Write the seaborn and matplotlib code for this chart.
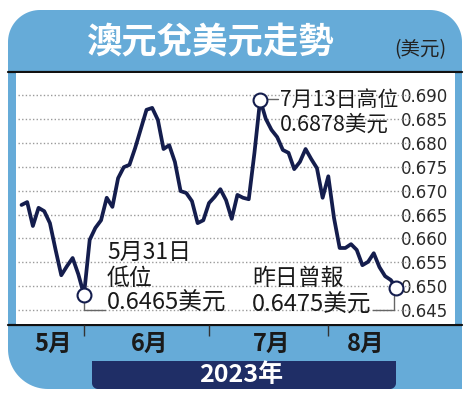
import matplotlib
matplotlib.use("Agg")
import matplotlib.pyplot as plt
import numpy as np
import pandas as pd
import seaborn as sns
from matplotlib.patches import Polygon
from matplotlib.transforms import IdentityTransform

# AUD/USD, trading days 16 May - 16 Aug 2023
dates = pd.bdate_range("2023-05-16", "2023-08-16")
aud_usd = [
    0.6670, 0.6676, 0.6626, 0.6664, 0.6657, 0.6632, 0.6576, 0.6523, 0.6542, 0.6559,
    0.6525, 0.6482,
    0.6597, 0.6622, 0.6638, 0.6685, 0.6666, 0.6726, 0.6749, 0.6754, 0.6789, 0.6829,
    0.6869, 0.6873, 0.6848, 0.6787, 0.6795, 0.6760, 0.6699, 0.6695, 0.6678, 0.6632,
    0.6638, 0.6674,
    0.6687, 0.6703, 0.6680, 0.6641, 0.6691, 0.6685, 0.6682, 0.6779, 0.6890, 0.6850,
    0.6827, 0.6812, 0.6785, 0.6779, 0.6745, 0.6760, 0.6787, 0.6766, 0.6747, 0.6685,
    0.6730,
    0.6643, 0.6580, 0.6580, 0.6588, 0.6576, 0.6544, 0.6551, 0.6569, 0.6540, 0.6521,
    0.6513, 0.6496,
]
y_ticks = [0.645, 0.650, 0.655, 0.660, 0.665, 0.670, 0.675, 0.680, 0.685, 0.690]
month_names = {5: "5月", 6: "6月", 7: "7月", 8: "8月"}

title = "澳元兌美元走勢"
unit = "(美元)"
year_label = "2023年"
low_date, low_text = "2023-05-31", ["5月31日", "低位", "0.6465美元"]
high_date, high_text = "2023-07-13", ["7月13日高位", "0.6878美元"]
last_text = ["昨日曾報", "0.6475美元"]

df = pd.DataFrame({"date": dates, "rate": aud_usd})
df["i"] = np.arange(len(df))
df["month"] = df["date"].dt.month

BLUE = "#66abd8"
NAVY = "#141d4d"
BOX = "#1f2e66"
INK = "#1a1a1a"

sns.set_style("white")
plt.rcParams["font.family"] = ["Noto Sans CJK TC", "DejaVu Sans"]

W, H = 474, 403
fig = plt.figure(figsize=(W / 100, H / 100), dpi=100)
bg = fig.add_axes([0, 0, 1, 1])
bg.set_xlim(0, W)
bg.set_ylim(H, 0)
bg.axis("off")


def round_box(x0, y0, x1, y1, r_tl, r_tr, r_br, r_bl, n=24):
    # y grows downwards in the background axes
    def arc(cx, cy, r, a0, a1):
        t = np.radians(np.linspace(a0, a1, n))
        return np.column_stack([cx + r * np.cos(t), cy + r * np.sin(t)])
    pts = np.vstack([
        arc(x0 + r_tl, y0 + r_tl, r_tl, 180, 270),
        arc(x1 - r_tr, y0 + r_tr, r_tr, 270, 360),
        arc(x1 - r_br, y1 - r_br, r_br, 0, 90),
        arc(x0 + r_bl, y1 - r_bl, r_bl, 90, 180),
    ])
    return pts


bg.add_patch(Polygon(round_box(8, 10, 462, 389, 32, 32, 0, 40), closed=True,
                     facecolor=BLUE, edgecolor="none"))
bg.plot([8, 462], [72, 72], color="#111111", lw=1.6)
bg.plot([8, 462], [325, 325], color="#111111", lw=1.6)
bg.add_patch(Polygon(round_box(92, 361, 396, 389, 0, 0, 6, 6), closed=True,
                     facecolor=BOX, edgecolor="none"))
bg.text(210, 43, title, color="white", fontsize=25.5, fontweight=900,
        ha="center", va="center")
bg.text(420, 50, unit, color="#222222", fontsize=14, ha="center", va="center")
bg.text(241, 375, year_label, color="white", fontsize=18, fontweight="bold",
        ha="center", va="center")

ax = fig.add_axes([16 / W, 1 - 324 / H, (455 - 16) / W, (324 - 73) / H])
ax.set_facecolor("white")
ax.set_xlim(-0.97, 76.3)
ax.set_ylim(0.6421, 0.6946)

ax.hlines(y_ticks, 0.005, 0.897, transform=ax.get_yaxis_transform(),
          colors="#9a9a9a", linestyles=(0, (1, 1.6)), lw=1, zorder=1)

sns.lineplot(data=df, x="i", y="rate", ax=ax, color=NAVY, linewidth=2.7, zorder=3)

ax.yaxis.tick_right()
ax.set_yticks(y_ticks)
ax.set_yticklabels([f"{v:.3f}" for v in y_ticks], ha="right",
                   fontfamily=["Liberation Sans Narrow", "DejaVu Sans"])
ax.tick_params(axis="y", length=0, pad=-5, labelsize=12, colors="#2a2a2a")
ax.set_xticks([])
ax.set_xlabel("")
ax.set_ylabel("")
for s in ax.spines.values():
    s.set_visible(False)

# month labels and dividers under the plot
xt = ax.get_xaxis_transform()
months = df.groupby("month")["i"]
for m, idx in months:
    ax.text(idx.mean(), -0.08, month_names[m], transform=xt, ha="center", va="center",
            fontsize=17, fontweight="bold", color=INK, clip_on=False)
for last_i in months.max().iloc[:-1]:
    ax.vlines(last_i, -0.048, -0.004, transform=xt, colors="#333333", lw=1, clip_on=False)

# highlighted points
low = df.loc[df["date"] == low_date].iloc[0]
high = df.loc[df["date"] == high_date].iloc[0]
last = df.iloc[-1]
for p in (low, high, last):
    ax.plot(p["i"], p["rate"], "o", ms=10, mfc="white", mec=NAVY, mew=1.5, zorder=5)


def connector(p, path_px):
    px, py = ax.transData.transform((p["i"], p["rate"]))
    ax.plot([px + dx for dx, dy in path_px], [py + dy for dx, dy in path_px],
            transform=IdentityTransform(), color="#666666", lw=1, clip_on=False, zorder=4)


def label(p, text, dx, dy, size):
    ax.annotate(text, xy=(p["i"], p["rate"]), xytext=(dx, dy), textcoords="offset pixels",
                ha="left", va="center", fontsize=size, color=INK, zorder=6)


connector(low, [(0, -7), (0, -15), (21, -15)])
label(low, low_text[0], 23, 42, 16.5)
label(low, low_text[1], 23, 16, 16.5)
label(low, low_text[2], 23, -8, 17)

connector(high, [(8, 1), (18, 1)])
label(high, high_text[0], 20, 0, 15)
label(high, high_text[1], 20, -25, 15.5)

connector(last, [(-23, -22), (-2, -22), (-2, -8)])
label(last, last_text[0], -144, 10, 16.5)
label(last, last_text[1], -145, -17, 17)

fig.savefig("out.png", dpi=100)
